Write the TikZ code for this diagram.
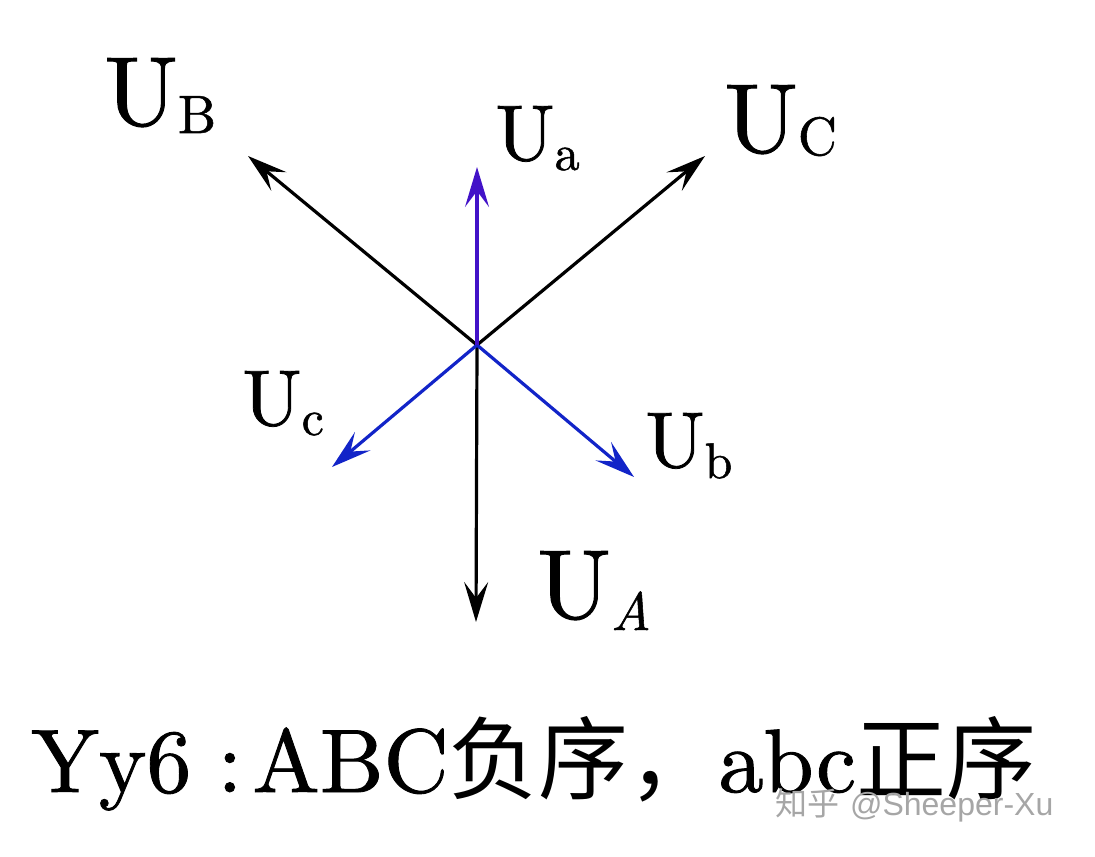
\documentclass[tikz,border=0pt]{standalone}
\usepackage{fontspec}
\setmainfont{lmroman10-regular}[Extension=.otf,ItalicFont=lmroman10-italic,FakeBold=1]
\newfontfamily\cjkfont{Noto Sans CJK SC}
\newfontfamily\wmfont{Liberation Sans}
\usetikzlibrary{arrows.meta}
\definecolor{phaseblue}{RGB}{18,36,200}
\definecolor{phasepurple}{RGB}{66,18,200}

\begin{document}
\begin{tikzpicture}[
		x=0.5pt, y=-0.5pt,
		vec/.style={line width=1.6pt,-{Stealth[length=20pt,width=12pt,inset=8pt]}},
		biglbl/.style={inner sep=0pt,anchor=base west,font=\fontsize{49}{49}\selectfont},
		smalllbl/.style={inner sep=0pt,anchor=base west,font=\fontsize{39.5}{40}\selectfont}
		]
		\useasboundingbox (0,0) rectangle (1095,856);
		\coordinate (O) at (477,345);
		\coordinate (A) at (476,622);
		\coordinate (B) at (248,156);
		\coordinate (C) at (705,156);
		\coordinate (a) at (477,167);
		\coordinate (b) at (634,477);
		\coordinate (c) at (332,467);
		\draw[vec] (O) -- (A);
		\draw[vec] (O) -- (B);
		\draw[vec] (O) -- (C);
		\draw[vec,phaseblue] (O) -- (b);
		\draw[vec,phaseblue] (O) -- (c);
		\draw[vec,phasepurple] (O) -- (a);
		\node[biglbl] (UB) at (104,125) {U\raisebox{-4pt}{\fontsize{27}{27}\selectfont B}};
		\node[biglbl] (UC) at (724,152) {U\raisebox{-1.5pt}{\fontsize{27}{27}\selectfont C}};
		\node[biglbl] (UA) at (537,618) {U\raisebox{-6pt}{\fontsize{27}{27}\selectfont\itshape A}};
		\node[smalllbl] (Ua) at (495,160) {U\raisebox{-5pt}{\fontsize{25}{25}\selectfont a}};
		\node[smalllbl] (Ub) at (645,467) {U\raisebox{-5.5pt}{\fontsize{25}{25}\selectfont b}};
		\node[smalllbl] (Uc) at (242,425) {U\raisebox{-5pt}{\fontsize{25}{25}\selectfont c}};
		\node[inner sep=0pt,anchor=base west,font=\fontsize{45}{45}\selectfont] (title) at (31,792)
			{Yy6\kern13pt:\kern5pt ABC{\cjkfont 负序，}abc{\cjkfont 正序}};
		\node[inner sep=0pt,anchor=base west,text=black!35,font=\fontsize{16}{16}\selectfont] (mark) at (775,815)
			{{\cjkfont 知乎} {\wmfont @Sheeper-Xu}};
	\end{tikzpicture}
\end{document}
